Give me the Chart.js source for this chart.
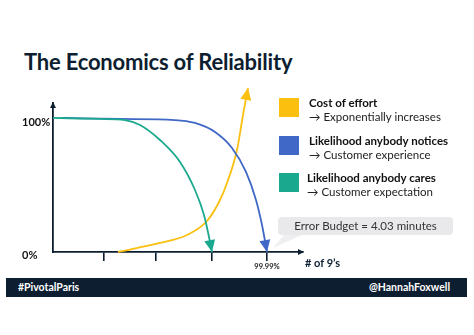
<!DOCTYPE html>
<html>
<head>
<meta charset="utf-8">
<script src="https://cdn.jsdelivr.net/npm/chart.js@4.4.1/dist/chart.umd.min.js"></script>
<style>
  html, body { margin: 0; padding: 0; background: #fff; }
  #slide { position: relative; width: 474px; height: 335px; overflow: hidden; font-family: Lato, sans-serif; color: #0c1e30; }
  #wrap { position: absolute; left: 0; top: 0; width: 474px; height: 335px; }
  .title { position: absolute; left: 24px; top: 48px; font-size: 22px; font-weight: 700; white-space: nowrap; letter-spacing: -0.2px; }
  .legend { position: absolute; left: 279px; top: 0; }
  .item { position: absolute; left: 0; width: 190px; }
  .sq { position: absolute; left: 0; top: 0; width: 20px; height: 19px; }
  .txt { position: absolute; left: 30px; top: -2px; font-size: 11.5px; line-height: 13.5px; white-space: nowrap; color: #222; }
  .txt b { color: #111; }
  .budget { position: absolute; left: 278px; top: 217px; width: 175px; height: 18px; background: #e9e9eb; border-radius: 4px;
            font-size: 11.5px; line-height: 18px; text-align: center; color: #333; white-space: nowrap; }
  .nines { position: absolute; left: 305px; top: 256px; font-size: 11px; font-weight: 700; white-space: nowrap; }
  .footer { position: absolute; left: 6px; top: 278px; width: 461px; height: 19px; background: #0c1e30; color: #fff;
            font-size: 10.5px; font-weight: 700; line-height: 19px; }
  .footer .l { position: absolute; left: 12px; }
  .footer .r { position: absolute; right: 17px; }
  svg { position: absolute; left: 0; top: 0; }
</style>
</head>
<body>
<div id="slide">
  <div class="title">The Economics of Reliability</div>
  <svg width="474" height="335"><polygon points="284,235 302,235 273,248" fill="#efeff1"/></svg>
  <div id="wrap"><canvas id="myChart"></canvas></div>

  <div class="legend">
    <div class="item" style="top:98px"><div class="sq" style="background:#fbbf0f"></div>
      <div class="txt"><b>Cost of effort</b><br>&rarr; Exponentially increases</div></div>
    <div class="item" style="top:136px"><div class="sq" style="background:#4068c6"></div>
      <div class="txt"><b>Likelihood anybody notices</b><br>&rarr; Customer experience</div></div>
    <div class="item" style="top:173px"><div class="sq" style="background:#1aa98f"></div>
      <div class="txt" style="left:28px"><b>Likelihood anybody cares</b><br>&rarr; Customer expectation</div></div>
  </div>

  <div class="budget">Error Budget = 4.03 minutes</div>
  <div class="nines"># of 9’s</div>

  <div class="footer"><span class="l">#PivotalParis</span><span class="r">@HannahFoxwell</span></div>
</div>

<script>
// x runs along the "nines" axis (0..100), y is a percentage
const tickPositions = [20.4, 41.2, 63.6, 85.6];
const tickLabels = ['', '', '', '99.99%'];
const yTicks = [0, 100];
const yTickLabels = ['0%', '100%'];

const caresX = [0, 18.8, 28.8, 34.8, 42.8, 50.8, 56.8, 60.4, 62.4, 63.6];
const caresY = [100.8, 100, 99.2, 95.5, 84.2, 67.7, 46.6, 27.8, 11.3, 0];

const noticesX = [3.6, 26.8, 48.8, 56.8, 64.8, 71.6, 77.2, 81.2, 83.6, 85.6];
const noticesY = [100.8, 100, 99.2, 97, 90.2, 78.2, 60.2, 39.1, 20.3, 0];

const costX = [26, 42.8, 53.6, 61.6, 66.8, 69.6, 73.6, 76, 78];
const costY = [0, 6.8, 12.8, 23.3, 39.1, 51.9, 76.7, 103, 123.3];

const navy = '#0c1e30';

function puntos(xs, ys) {
    return xs.map((x, i) => ({ x: x, y: ys[i] }));
}

function linea(label, xs, ys, color) {
    return {
        label: label,
        data: puntos(xs, ys),
        borderColor: color,
        backgroundColor: color,
        borderWidth: 1.8,
        pointRadius: 0,
        cubicInterpolationMode: 'monotone',
        clip: false
    };
}

// arrow heads at the end of each curve and at the end of both axes
function flecha(ctx, x, y, ang, largo, ancho, color) {
    ctx.save();
    ctx.translate(x, y);
    ctx.rotate(ang);
    ctx.fillStyle = color;
    ctx.beginPath();
    ctx.moveTo(0, 0);
    ctx.lineTo(-largo, -ancho);
    ctx.lineTo(-largo, ancho);
    ctx.closePath();
    ctx.fill();
    ctx.restore();
}

const flechas = {
    id: 'flechas',
    afterDatasetsDraw(chart) {
        const ctx = chart.ctx;
        chart.data.datasets.forEach((ds, i) => {
            const pts = chart.getDatasetMeta(i).data;
            const p = pts[pts.length - 1];
            const q = pts[pts.length - 2];
            let dx = p.x - q.x, dy = p.y - q.y;
            if (p.cp1x !== undefined && (p.cp1x !== p.x || p.cp1y !== p.y)) {
                dx = p.x - p.cp1x; dy = p.y - p.cp1y;
            }
            flecha(ctx, p.x, p.y, Math.atan2(dy, dx), 12, 5.5, ds.borderColor);
        });
        const a = chart.chartArea;
        flecha(ctx, a.right + 1, a.bottom, 0, 6, 3, navy);
        flecha(ctx, a.left, a.top - 1, -Math.PI / 2, 6, 3, navy);
    }
};

const ctx = document.getElementById('myChart').getContext('2d');
new Chart(ctx, {
    type: 'line',
    data: {
        datasets: [
            linea('Likelihood anybody cares', caresX, caresY, '#1aa98f'),
            linea('Likelihood anybody notices', noticesX, noticesY, '#4068c6'),
            linea('Cost of effort', costX, costY, '#fbbf0f')
        ]
    },
    options: {
        responsive: true,
        maintainAspectRatio: false,
        animation: false,
        layout: { padding: { left: 22, right: 171, top: 103, bottom: 63 } },
        plugins: { legend: { display: false }, tooltip: { enabled: false } },
        scales: {
            x: {
                type: 'linear',
                min: 0,
                max: 100,
                afterBuildTicks: (s) => { s.ticks = tickPositions.map(v => ({ value: v })); },
                afterFit: (s) => { s.height = 20; },
                ticks: {
                    autoSkip: false,
                    maxRotation: 0,
                    padding: 1,
                    color: '#222',
                    font: { family: 'Lato', size: 7.5, weight: 'bold' },
                    callback: (v, i) => tickLabels[i]
                },
                grid: { display: true, drawOnChartArea: false, drawTicks: true, tickLength: 9, color: navy, lineWidth: 1.6 },
                border: { display: true, color: navy, width: 1.8 }
            },
            y: {
                type: 'linear',
                min: 0,
                max: 112,
                afterBuildTicks: (s) => { s.ticks = yTicks.map(v => ({ value: v })); },
                afterFit: (s) => { s.width = 31; },
                ticks: {
                    crossAlign: 'far',
                    labelOffset: 3,
                    color: '#111',
                    font: { family: 'Lato', size: 11, weight: 'bold' },
                    callback: (v, i) => yTickLabels[i]
                },
                grid: { display: false },
                border: { display: true, color: navy, width: 1.8 }
            }
        }
    },
    plugins: [flechas]
});
</script>
</body>
</html>
